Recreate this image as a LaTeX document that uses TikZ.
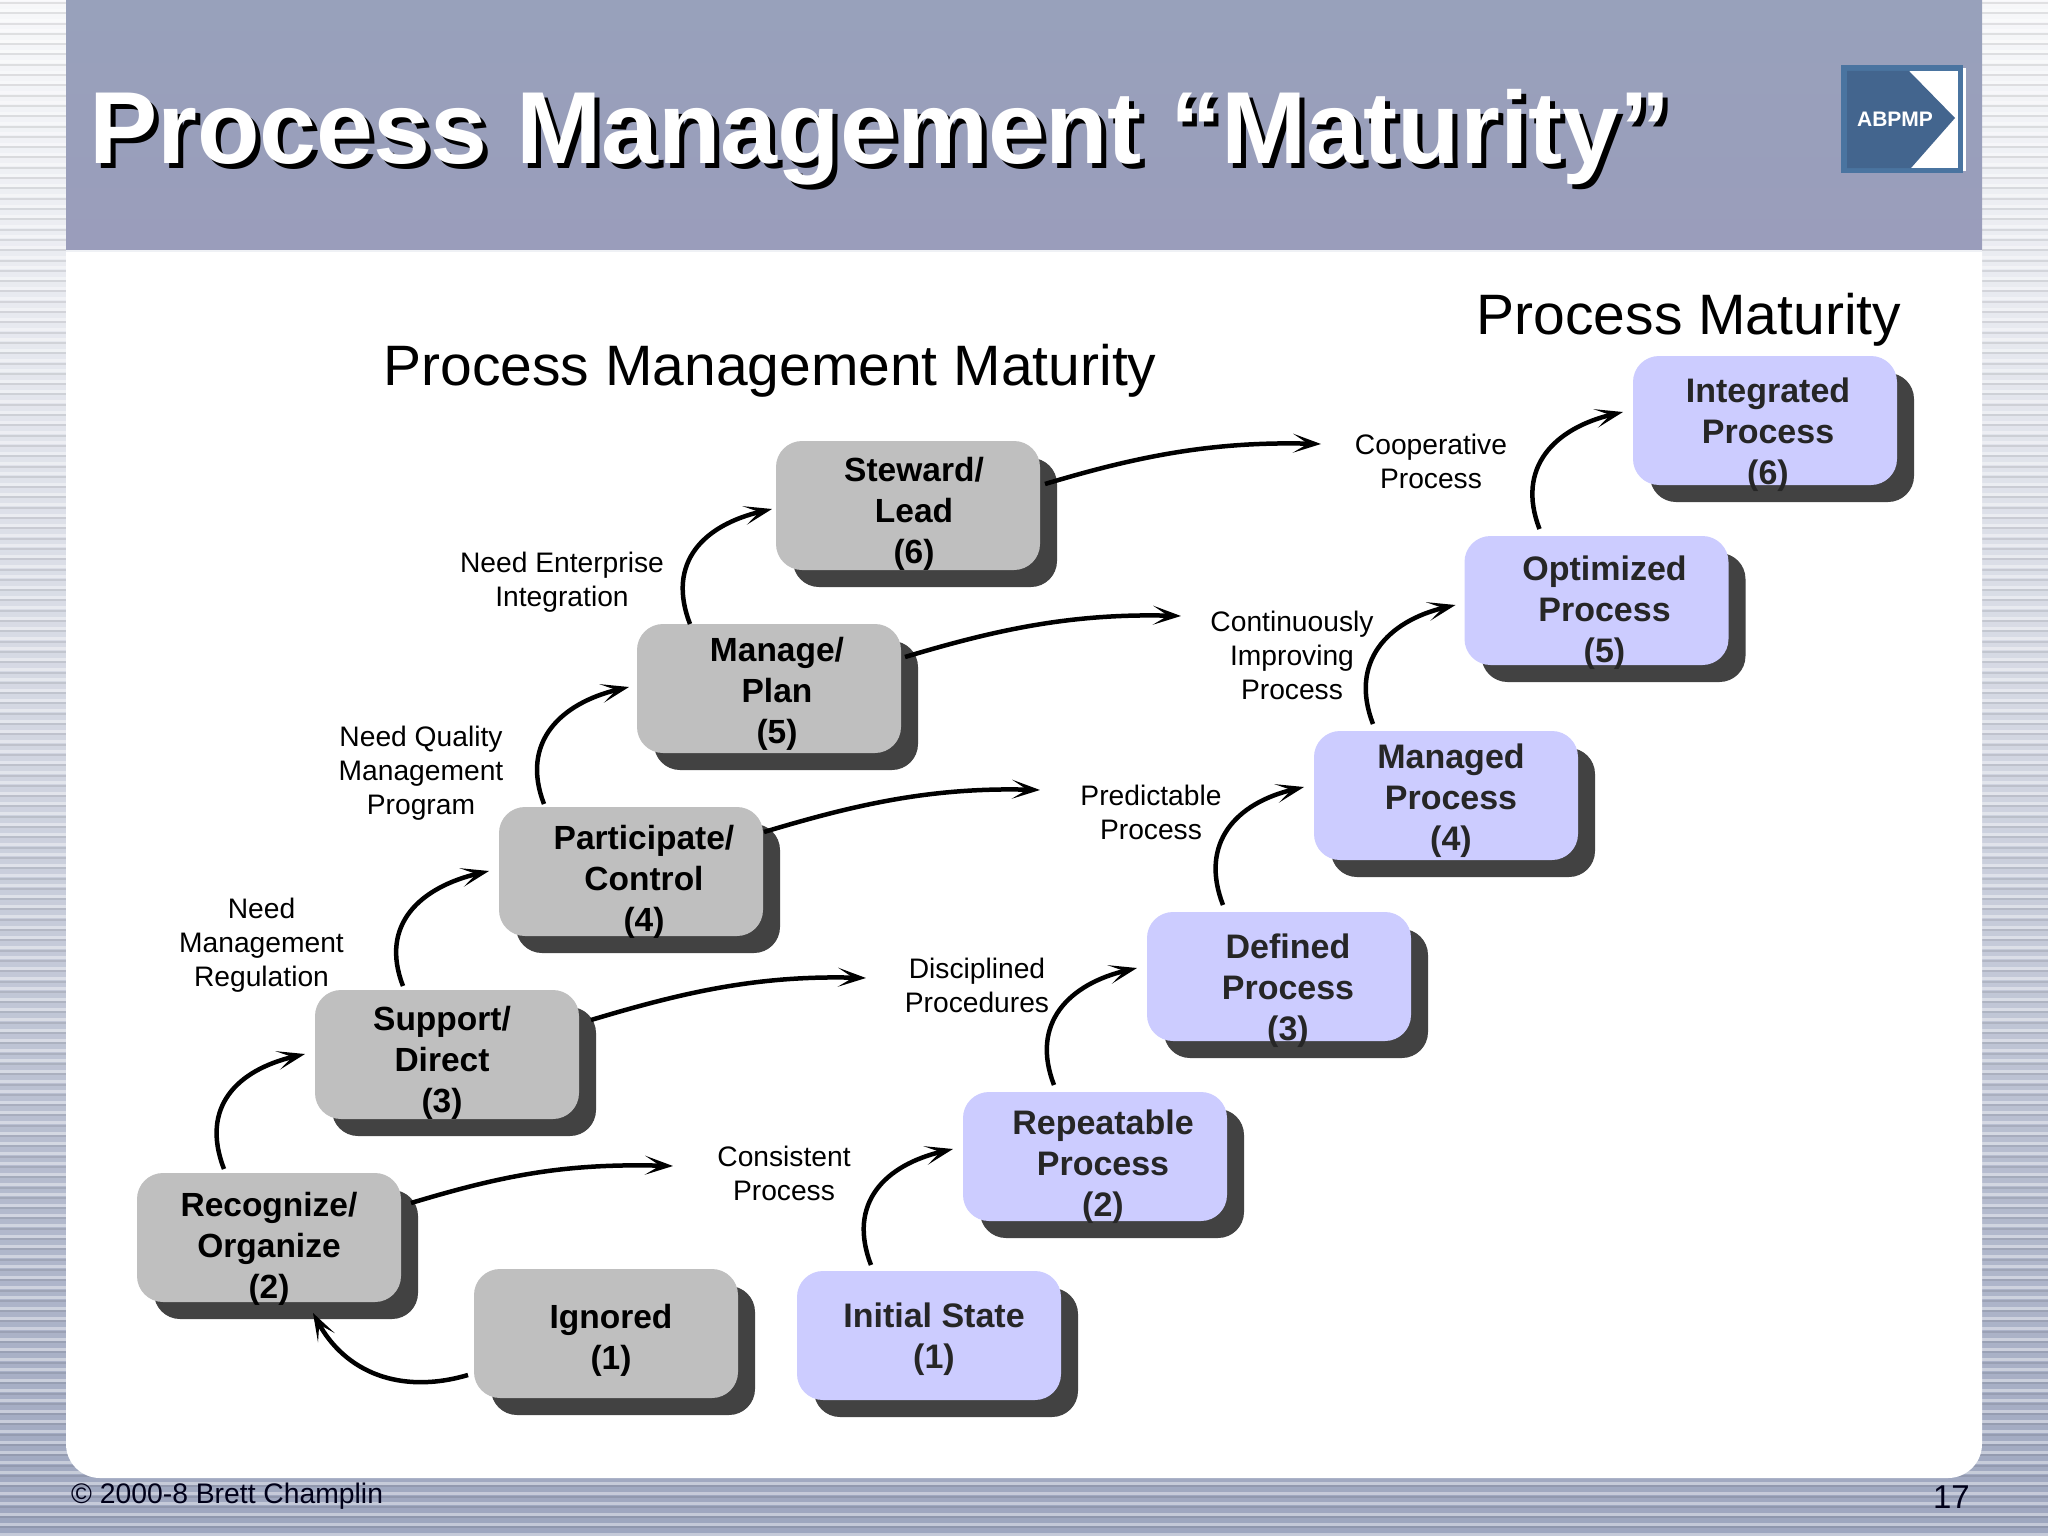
\documentclass[tikz,border=0pt]{standalone}
\usepackage{fontspec}
\setmainfont{Liberation Sans}
\usetikzlibrary{arrows.meta}
\usetikzlibrary{shadows}

\definecolor{headblue}{HTML}{98A1BB}
\definecolor{headlow}{HTML}{9A9DBB}
\definecolor{stageGray}{HTML}{BFBFBF}
\definecolor{stageBlue}{HTML}{CCCCFF}
\definecolor{stageDark}{HTML}{424242}
\definecolor{logoEdge}{HTML}{4A74A0}
\definecolor{logoDark}{HTML}{43658E}

\tikzset{
    grayStage/.style={shape=rectangle,fill=stageGray,rounded corners=26pt,minimum width=264pt,minimum height=129pt,inner sep=0pt,outer sep=0pt,
        general shadow={fill=stageDark,shadow xshift=17pt,shadow yshift=-17pt}},
    blueStage/.style={grayStage,fill=stageBlue},
    grayText/.style={align=center,inner sep=0pt,font=\fontsize{33.5}{41}\selectfont\bfseries},
    blueText/.style={align=center,inner sep=0pt,font=\fontsize{34}{41}\selectfont\bfseries,text=black!85},
    sideLabel/.style={align=center,inner sep=0pt,font=\fontsize{28.2}{34}\selectfont},
    heading/.style={inner sep=0pt,font=\fontsize{57}{60}\selectfont},
    climb/.style={-{Stealth[length=28pt,width=19pt,inset=15pt]},line width=4.5pt},
}

\begin{document}
\begin{tikzpicture}[x=1pt,y=-1pt]
    \useasboundingbox (0,0) rectangle (2048,1536);
    \fill[top color=white!92!headblue,bottom color=headblue!95!white,middle color=headblue!45!white] (0,0) rectangle (2048,1536);
    \foreach \y in {0,10.3,...,1536} % stripes down the frame
    {
    \draw[white,opacity=.4,line width=3pt] (0,\y) -- (2048,\y);
    \draw[black,opacity=.09,line width=2pt] (0,\y+3) -- (2048,\y+3);
    }
    \fill[white,rounded corners=34pt] (66,200) -- (66,1478) -- (1982,1478) -- (1982,200) -- cycle;
    \fill[top color=headblue,bottom color=headlow] (66,0) rectangle (1982,250);
    \draw[white!85!headblue,line width=2pt] (66,251) -- (1982,251);

    \node (titleShadow) at (94,168) [anchor=base west,inner sep=0pt,font=\fontsize{102.4}{110}\selectfont\bfseries,text=black] {Process Management “Maturity”};
    \node (title) at (89,164) [anchor=base west,inner sep=0pt,font=\fontsize{102.4}{110}\selectfont\bfseries,text=white] {Process Management “Maturity”};

    \fill[white] (1963,68) rectangle (1966,171);
    \fill[logoEdge] (1841,65) rectangle (1963,173);
    \fill[white] (1905,71) rectangle (1958,168);
    \fill[logoDark] (1847,71) -- (1909,71) -- (1955,118) -- (1911,168) -- (1847,168) -- cycle;
    \node (logo) at (1895,119) [inner sep=0pt,font=\fontsize{21}{24}\selectfont\bfseries,text=white] {ABPMP};

    \node (leftHeading) at (770,371) [heading] {Process Management Maturity};
    \node (rightHeading) at (1689,320) [heading] {Process Maturity};

    % management ladder
    \node (ignored) at (606,1333.5) [grayStage] {};
    \node (recognize) at (269,1237.5) [grayStage] {};
    \node (support) at (447,1054.5) [grayStage] {};
    \node (participate) at (631,871.5) [grayStage] {};
    \node (manage) at (769,688.5) [grayStage] {};
    \node (steward) at (908,505.5) [grayStage] {};
    \node (ignoredText) at ([shift={(5,7)}]ignored) [grayText] {Ignored\\(1)};
    \node (recognizeText) at ([shift={(0,11)}]recognize) [grayText] {Recognize/\\Organize\\(2)};
    \node (supportText) at ([shift={(-5,8)}]support) [grayText] {Support/\\Direct\\(3)};
    \node (participateText) at ([shift={(13,10)}]participate) [grayText] {Participate/\\Control\\(4)};
    \node (manageText) at ([shift={(8,5)}]manage) [grayText] {Manage/\\Plan\\(5)};
    \node (stewardText) at ([shift={(6,8)}]steward) [grayText] {Steward/\\Lead\\(6)};

    % process ladder
    \node (initial) at (929,1335.5) [blueStage] {};
    \node (repeatable) at (1095,1156.5) [blueStage] {};
    \node (defined) at (1279,976.5) [blueStage] {};
    \node (managed) at (1446,795.5) [blueStage] {};
    \node (optimized) at (1596.5,600.5) [blueStage] {};
    \node (integrated) at (1765,420.5) [blueStage] {};
    \node (initialText) at ([shift={(5,4)}]initial) [blueText] {Initial State\\(1)};
    \node (repeatableText) at ([shift={(8,10)}]repeatable) [blueText] {Repeatable\\Process\\(2)};
    \node (definedText) at ([shift={(9,14)}]defined) [blueText] {Defined\\Process\\(3)};
    \node (managedText) at ([shift={(5,5)}]managed) [blueText] {Managed\\Process\\(4)};
    \node (optimizedText) at ([shift={(8,12)}]optimized) [blueText] {Optimized\\Process\\(5)};
    \node (integratedText) at ([shift={(3,14)}]integrated) [blueText] {Integrated\\Process\\(6)};

    \node (needEnterprise) at (562,582.5) [sideLabel] {Need Enterprise\\Integration};
    \node (needQuality) at (421,773.5) [sideLabel] {Need Quality\\Management\\Program};
    \node (needRegulation) at (261.5,945.5) [sideLabel] {Need\\Management\\Regulation};
    \node (cooperative) at (1431,461) [sideLabel] {Cooperative\\Process};
    \node (continuously) at (1292,655) [sideLabel] {Continuously\\Improving\\Process};
    \node (predictable) at (1151,812) [sideLabel] {Predictable\\Process};
    \node (disciplined) at (977,985) [sideLabel] {Disciplined\\Procedures};
    \node (consistent) at (784,1173) [sideLabel] {Consistent\\Process};

    \node (copyright) at (71,1503) [anchor=base west,inner sep=0pt,font=\fontsize{28.3}{30}\selectfont,text=black!90!blue] {© 2000-8 Brett Champlin};
    \node (pageNumber) at (1970,1508) [anchor=base east,inner sep=0pt,font=\fontsize{33}{35}\selectfont,text=black!90!blue] {17};

    \coordinate (coopTip) at (1321,444);
    \coordinate (contTip) at (1181,616);
    \coordinate (predTip) at (1040,790);
    \coordinate (discTip) at (866,978);
    \coordinate (consTip) at (673,1166);

    \foreach \from/\to/\sx/\sy/\tx/\ty in {recognize/support/87/-4/-10/64,support/participate/88/-4/-10/64,participate/manage/45/-3/-8/63,manage/steward/53/0/-4/68,initial/repeatable/74/-6/-10/57,repeatable/defined/91/-7/-10/56,defined/managed/76/-7/-10/56,managed/optimized/59/-7/-9/69,optimized/integrated/75/-7/-10/56} % edit here for the steps up
    \draw[climb] ([shift={(\sx,\sy)}]\from.north west) .. controls +(-24,-62) and +(-68,16) .. ([shift={(\tx,\ty)}]\to.north west);
    \foreach \from/\to/\sx/\sy in {steward/coopTip/5/43,manage/contTip/4/33,participate/predTip/1/25,support/discTip/12/30,recognize/consTip/10/30} % edit here for the long ones
    \draw[climb] ([shift={(\sx,\sy)}]\from.north east) .. controls +(90,-27) and +(-110,-3) .. (\to);
    \draw[climb] ([shift={(-6,106)}]ignored.north west) .. controls +(-68,20) and +(32,59) .. ([shift={(176,140)}]recognize.north west);
\end{tikzpicture}
\end{document}
